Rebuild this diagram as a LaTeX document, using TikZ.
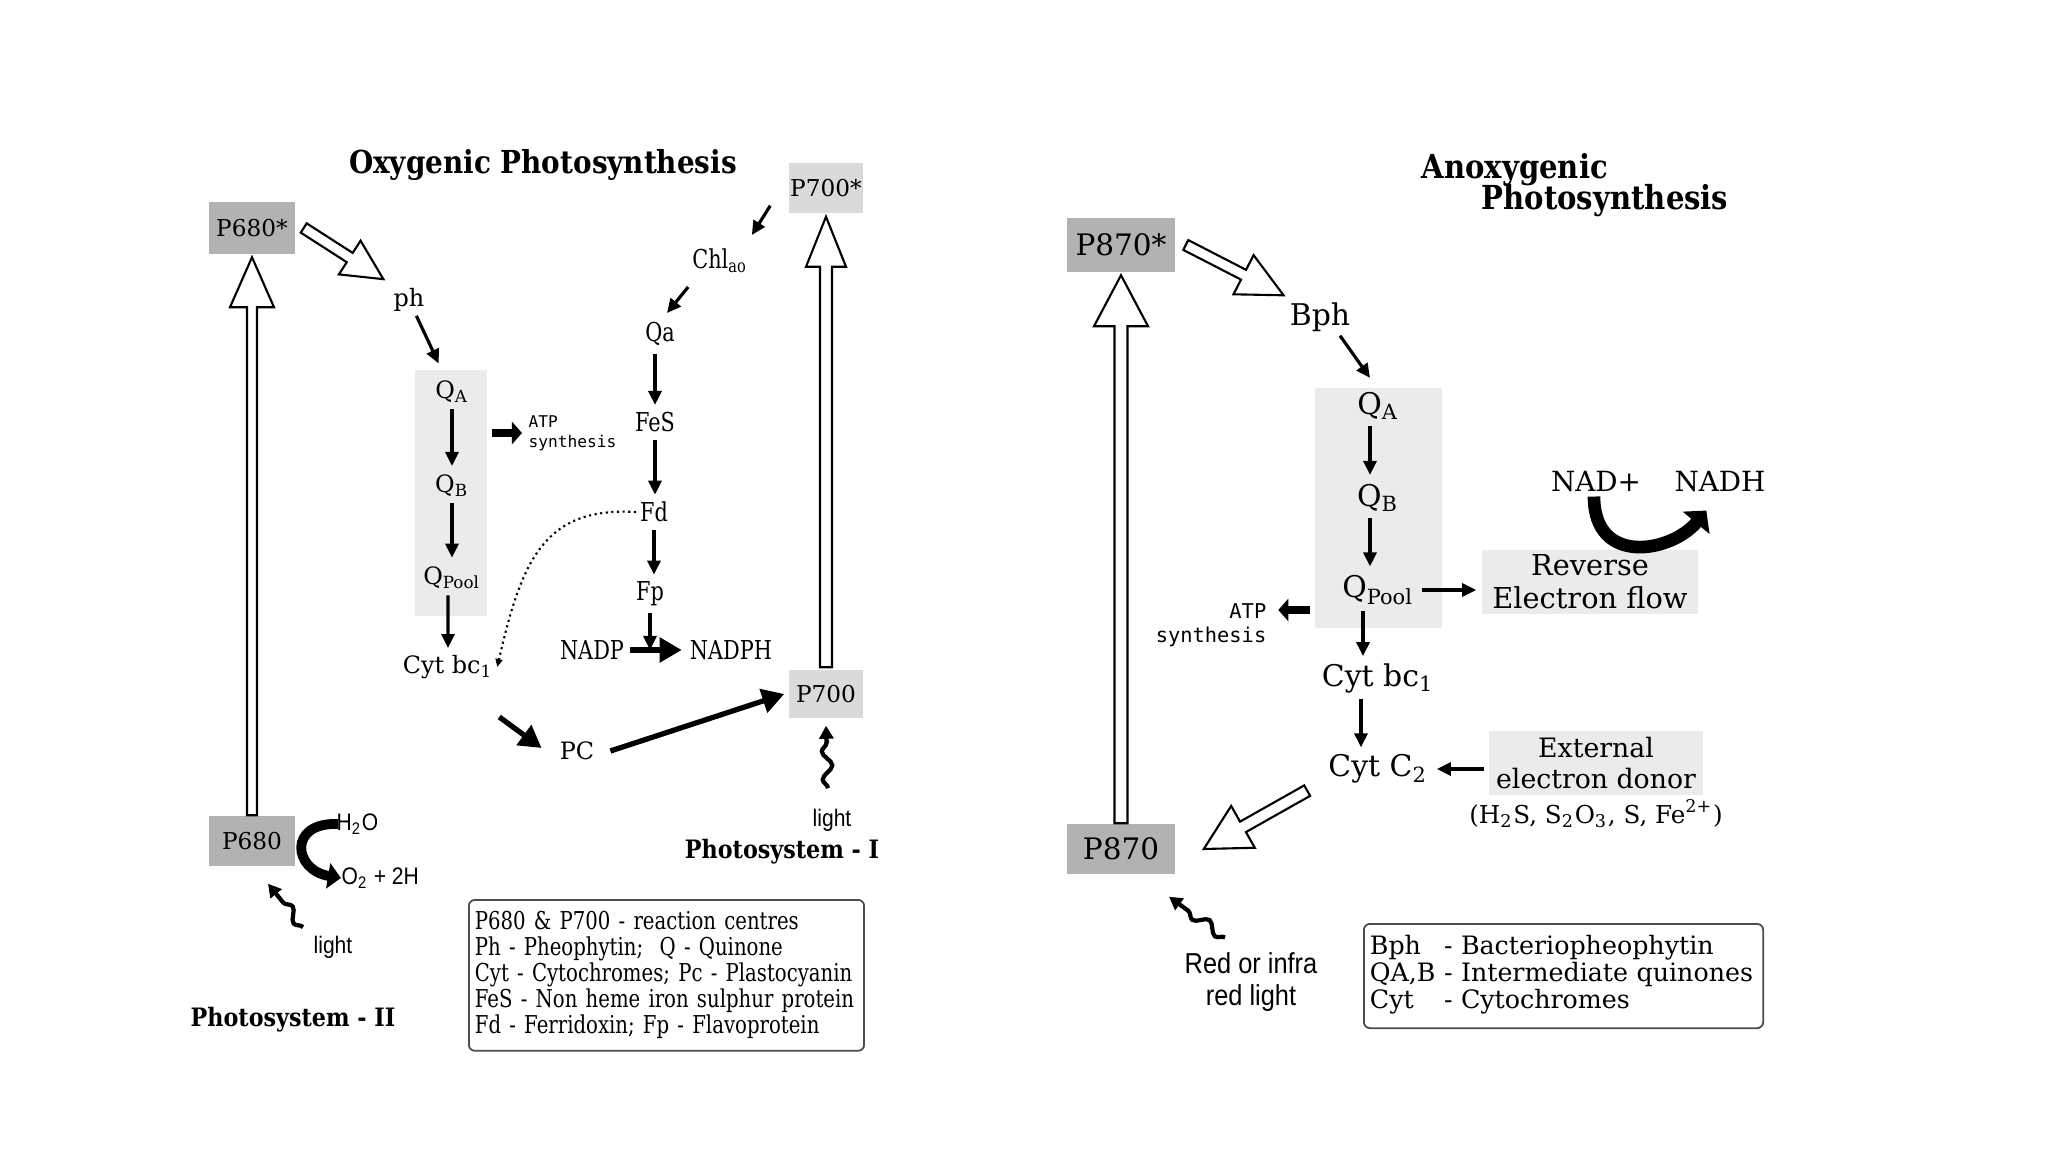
\documentclass[tikz,border=0pt]{standalone}
\usepackage{fontspec}
\setmainfont{DejaVu Serif}
\newfontfamily\condfont[FakeStretch=0.8]{DejaVu Serif}
\newfontfamily\titlefont[FakeStretch=0.88]{DejaVu Serif}
\newfontfamily\narrowsans[FakeStretch=0.88]{Liberation Sans}
\newfontfamily\monofont{DejaVu Sans Mono}
\usetikzlibrary{arrows.meta,positioning,calc,decorations.pathmorphing}

\definecolor{boxdark}{HTML}{B2B2B2}
\definecolor{boxlight}{HTML}{DADADA}
\definecolor{panelgray}{HTML}{EBEBEB}

\newcommand{\fsz}[2]{\fontsize{#1}{#2}\selectfont}

% hollow block arrow: \blockarrow{from}{to}{half shaft}{half head}{head length}
\newcommand{\blockarrow}[5]{%
  \draw[hollow] let \p1=(#1), \p2=(#2),
      \n1={atan2(\y2-\y1,\x2-\x1)}, \n2={veclen(\x2-\x1,\y2-\y1)} in
    [shift={(\p1)}, rotate=\n1]
    (0pt,-#3) -- ({\n2-#5},-#3) -- ({\n2-#5},-#4) -- ({\n2},0pt)
    -- ({\n2-#5},#4) -- ({\n2-#5},#3) -- (0pt,#3) -- cycle;
}

\begin{document}
\begin{tikzpicture}[x=0.01cm, y=-0.01cm,
    darkbox/.style={rectangle, fill=boxdark, inner sep=0pt},
    lightbox/.style={rectangle, fill=boxlight, inner sep=0pt},
    panel/.style={rectangle, fill=panelgray, inner sep=0pt},
    carrier/.style={inner sep=1pt, font=\fsz{6.8}{8}},
    condlabel/.style={inner sep=1pt, font=\condfont\fsz{7.4}{8}},
    bigcarrier/.style={inner sep=1pt, font=\fsz{8.5}{10}},
    heading/.style={inner sep=0pt, font=\titlefont\bfseries\fsz{9}{11}},
    sysname/.style={inner sep=0pt, font=\titlefont\bfseries\fsz{7.2}{9}},
    lightlbl/.style={inner sep=0pt, font=\narrowsans\fsz{6.8}{8}},
    legend/.style={rectangle, draw=black!70, line width=0.5pt, rounded corners=0.06cm, align=left},
    hollow/.style={draw=black, line width=0.6pt, fill=white},
    flow/.style={line width=0.9pt, -{Triangle[length=0.14cm, width=0.13cm]}},
    bigflow/.style={line width=1.5pt, -{Triangle[length=0.22cm, width=0.24cm]}},
    fatflow/.style={line width=2.4pt, -{Triangle[length=0.1cm, width=0.22cm]}},
    wavy/.style={line width=1.2pt, decorate, decoration={snake, amplitude=0.05cm, segment length=0.28cm, post length=0.14cm}, -{Triangle[length=0.13cm, width=0.14cm]}},
    dotline/.style={densely dotted, line width=0.6pt, -{Triangle[length=0.08cm, width=0.07cm]}},
    curlflow/.style={line width=2.8pt, -{Triangle[length=0.13cm, width=0.25cm]}}
  ]

  \useasboundingbox (0,0) rectangle (2048,1152);

  % Oxygenic photosynthesis
  \node[heading] (otitle) at (543,165) {Oxygenic Photosynthesis};

  % Photosystem II
  \node[darkbox, minimum width=0.86cm, minimum height=0.51cm, font=\fsz{6.6}{8}] (p680s) at (252,228) {P680*};
  \node[darkbox, minimum width=0.86cm, minimum height=0.50cm, font=\fsz{6.6}{8}] (p680) at (252,841) {P680};
  \node[carrier] (ph) at (409,300) {ph};
  \node[panel, minimum width=0.72cm, minimum height=2.45cm] (qcol) at (451,493) {};
  \node[carrier] (qa) at (452,392) {Q\textsubscript{A}};
  \node[carrier] (qb) at (452,486) {Q\textsubscript{B}};
  \node[carrier] (qpool) at (452,578) {Q\textsubscript{Pool}};
  \node[carrier] (cytbc) at (448,667) {Cyt bc\textsubscript{1}};
  \node[anchor=west, align=left, inner sep=0pt, font=\monofont\fsz{4.6}{5.8}] (atp) at (528,433) {ATP\\synthesis};
  \node[carrier] (pc) at (577,751) {PC};
  \node[inner sep=0pt, anchor=west, font=\narrowsans\fsz{6.8}{8}] (h2o) at (336,824) {H\textsubscript{2}O};
  \node[inner sep=0pt, anchor=west, font=\narrowsans\fsz{6.8}{8}] (o2) at (341,878) {O\textsubscript{2} + 2H};
  \node[lightlbl] (light1) at (333,947) {light};
  \node[sysname] (ps2) at (293,1020) {Photosystem - II};

  % Photosystem I
  \node[lightbox, minimum width=0.74cm, minimum height=0.50cm, font=\fsz{6.6}{8}] (p700s) at (826,188) {P700*};
  \node[lightbox, minimum width=0.74cm, minimum height=0.48cm, font=\fsz{6.6}{8}] (p700) at (826,694) {P700};
  \node[condlabel] (chl) at (720,261) {Chl\textsubscript{ao}};
  \node[condlabel] (qa2) at (660,334) {Qa};
  \node[condlabel] (fes) at (655,422) {FeS};
  \node[condlabel] (fd) at (654,512) {Fd};
  \node[condlabel] (fp) at (650,594) {Fp};
  \node[condlabel] (nadp) at (592,650) {NADP};
  \node[condlabel] (nadph) at (731,650) {NADPH};
  \node[lightlbl] (light2) at (832,820) {light};
  \node[sysname] (ps1) at (782,852) {Photosystem - I};

  \node[legend, anchor=north west, minimum width=3.95cm, minimum height=1.42cm, text width=3.83cm, inner xsep=0.06cm, font=\condfont\fsz{7}{7.4}] (key1) at (468,899)
    {P680 \& P700 - reaction centres\\Ph - Pheophytin;\ \ Q - Quinone\\Cyt - Cytochromes; Pc - Plastocyanin\\FeS - Non heme iron sulphur protein\\Fd - Ferridoxin; Fp - Flavoprotein};

  % electron flow, oxygenic
  \blockarrow{p680.north}{[yshift=-0.03cm]p680s.south}{0.05cm}{0.22cm}{0.5cm}
  \blockarrow{[xshift=0.08cm]p680s.east}{[shift={(-0.06cm,0.05cm)}]ph.north west}{0.055cm}{0.2cm}{0.4cm}
  \blockarrow{[yshift=0.02cm]p700.north}{[yshift=-0.03cm]p700s.south}{0.06cm}{0.2cm}{0.5cm}
  \draw[flow, shorten >=0.15cm] (ph) -- (qa);
  \draw[flow, shorten <=0.02cm, shorten >=0.05cm] (qa) -- (qb);
  \draw[flow, shorten <=0.02cm, shorten >=0.05cm] (qb) -- (qpool);
  \draw[flow, shorten <=0.02cm, shorten >=0.03cm] ([xshift=-0.04cm]qpool.south) -- (cytbc.north);
  \draw[fatflow] ($(qcol.east |- atp.west)+(4,0)$) -- ($(atp.west)+(-6,0)$);
  \draw[bigflow] ([shift={(0.02cm,-0.34cm)}]cytbc.south east) -- ([shift={(-0.14cm,0.03cm)}]pc.west);
  \draw[bigflow] ([xshift=0.12cm]pc.east) -- ([xshift=-0.04cm]p700.west);
  \draw[flow] ([shift={(-0.18cm,0.08cm)}]p700s.south west) -- ([yshift=0.1cm]chl.north east);
  \draw[flow] ([yshift=-0.1cm]chl.south west) -- ([shift={(0.07cm,0.05cm)}]qa2.north);
  \draw[flow, shorten <=0.04cm, shorten >=0.03cm] (qa2.south -| fes.north) -- (fes.north);
  \draw[flow, shorten <=0.04cm, shorten >=0.03cm] (fes.south) -- (fd.north -| fes.south);
  \draw[flow, shorten <=0.04cm, shorten >=0.03cm] (fd.south) -- (fp.north -| fd.south);
  \draw[flow, shorten <=0.03cm] (fp.south) -- (fp.south |- nadp.east);
  \draw[bigflow, shorten <=0.02cm, shorten >=0.04cm] (nadp.east) -- (nadph.west);
  \draw[dotline] (fd.west) .. controls +(-90,-5) and +(25,-110) .. (cytbc.east);
  \draw[curlflow] ([xshift=0.02cm]h2o.west) .. controls +(-50,-2) and +(-48,-8) .. (o2.west);
  \draw[wavy] ($(light1.north west)+(-10,-8)$) -- ($(p680.south)+(16,17)$);
  \draw[wavy] ($(light2.north)+(-4,-20)$) -- ($(p700.south)+(0,7)$);

  % Anoxygenic photosynthesis
  \node[heading, anchor=west, font=\titlefont\bfseries\fsz{9.4}{11}] (atitle1) at (1421,170) {Anoxygenic};
  \node[heading, anchor=west, font=\titlefont\bfseries\fsz{9.4}{11}] (atitle2) at (1481,201) {Photosynthesis};

  \node[darkbox, minimum width=1.08cm, minimum height=0.53cm, font=\fsz{8.4}{10}] (p870s) at (1121,245) {P870*};
  \node[darkbox, minimum width=1.08cm, minimum height=0.50cm, font=\fsz{8.4}{10}] (p870) at (1121,849) {P870};
  \node[bigcarrier] (bph) at (1320,317) {Bph};
  \node[panel, minimum width=1.27cm, minimum height=2.40cm] (qcol2) at (1378.5,508) {};
  \node[bigcarrier] (qa3) at (1378,406) {Q\textsubscript{A}};
  \node[bigcarrier] (qb3) at (1378,498) {Q\textsubscript{B}};
  \node[bigcarrier] (qpool3) at (1378,590) {Q\textsubscript{Pool}};
  \node[bigcarrier] (cytbc3) at (1378,678) {Cyt bc\textsubscript{1}};
  \node[bigcarrier] (cytc2) at (1378,769) {Cyt C\textsubscript{2}};
  \node[panel, minimum width=2.16cm, minimum height=0.64cm, align=center, font=\fsz{8.2}{9.4}] (rev) at (1590,582) {Reverse\\Electron flow};
  \node[panel, minimum width=2.13cm, minimum height=0.64cm, align=center, font=\fsz{7.6}{8.8}] (ext) at (1596,763) {External\\electron donor};
  \node[inner sep=0pt, font=\fsz{7}{8}] (donors) at (1596,814) {(H\textsubscript{2}S, S\textsubscript{2}O\textsubscript{3}, S, Fe\textsuperscript{2+})};
  \node[anchor=east, align=right, inner sep=0pt, font=\monofont\fsz{5.8}{7}] (atp3) at (1267,625) {ATP\\synthesis};
  \node[inner sep=1pt, font=\fsz{7.9}{9}] (nad) at (1596,482) {NAD+};
  \node[inner sep=1pt, font=\fsz{7.9}{9}] (nadh) at (1720,482) {NADH};
  \node[inner sep=0pt, align=center, font=\narrowsans\fsz{8.2}{9.3}] (irlight) at (1251,982) {Red or infra\\red light};

  \node[legend, anchor=north west, minimum width=3.99cm, minimum height=1.04cm, text width=3.87cm, inner xsep=0.06cm, font=\fsz{7.2}{7.3}] (key2) at (1363,923)
    {\begin{tabular}{@{}l@{ }l@{}}Bph & - Bacteriopheophytin\\QA,B & - Intermediate quinones\\Cyt & - Cytochromes\end{tabular}};

  % electron flow, anoxygenic
  \blockarrow{p870.north}{[yshift=-0.03cm]p870s.south}{0.065cm}{0.27cm}{0.51cm}
  \blockarrow{[xshift=0.1cm]p870s.east}{[shift={(-0.02cm,0.03cm)}]bph.north west}{0.055cm}{0.22cm}{0.45cm}
  \blockarrow{[shift={(-0.17cm,-0.03cm)}]cytc2.south west}{[xshift=0.28cm]p870.east}{0.06cm}{0.24cm}{0.45cm}
  \draw[flow] ([xshift=0.2cm]bph.south) -- ([shift={(-0.08cm,0.1cm)}]qa3.north);
  \draw[flow, shorten <=0.02cm, shorten >=0.05cm] ([xshift=-0.08cm]qa3.south) -- ([xshift=-0.08cm]qb3.north);
  \draw[flow, shorten <=0.02cm, shorten >=0.05cm] ([xshift=-0.08cm]qb3.south) -- ([xshift=-0.08cm]qpool3.north);
  \draw[flow, shorten <=0.02cm, shorten >=0.03cm] ([xshift=-0.15cm]qpool3.south) -- ([xshift=-0.15cm]cytbc3.north);
  \draw[flow, shorten <=0.02cm, shorten >=0.03cm] ([xshift=-0.17cm]cytbc3.south) -- ([xshift=-0.17cm]cytc2.north);
  \draw[flow, shorten <=0.05cm, shorten >=0.05cm] (ext.west |- cytc2.east) -- (cytc2.east);
  \draw[flow, shorten <=0.04cm, shorten >=0.05cm] (qpool3.east) -- (rev.west |- qpool3.east);
  \draw[fatflow] ($(qcol2.west |- qpool3.west)+(-4,20)$) -- ++(-32,0);
  \draw[curlflow, line width=3.6pt, -{Triangle[length=0.16cm, width=0.34cm]}] ([xshift=-0.02cm]nad.south) .. controls +(0,70) and +(-35,42) .. ($(nadh.south west)+(36,14)$);
  \draw[wavy] ($(irlight.north)+(-26,-14)$) -- ($(p870.south)+(48,22)$);

\end{tikzpicture}
\end{document}
